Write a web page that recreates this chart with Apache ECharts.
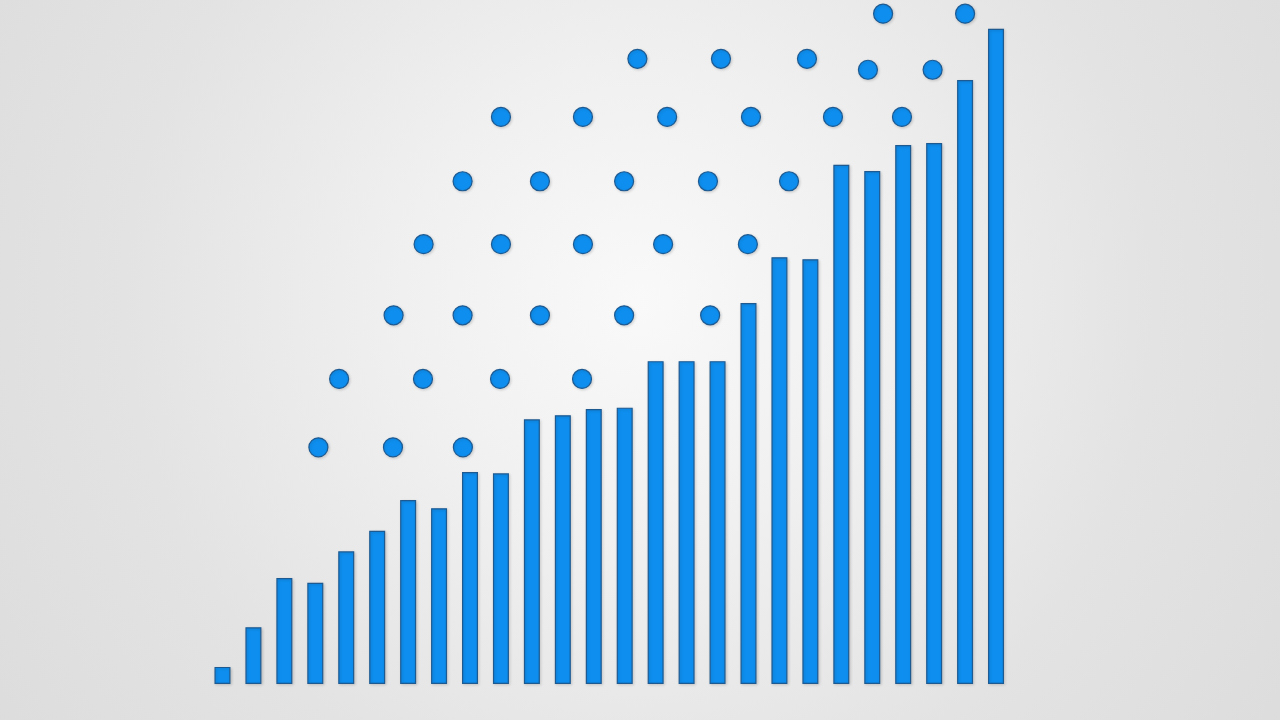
<!DOCTYPE html>
<html>
<head>
<meta charset="utf-8">
<script src="https://cdn.jsdelivr.net/npm/echarts@6/dist/echarts.min.js"></script>
<style>
html,body{margin:0;padding:0;width:1280px;height:720px;overflow:hidden;}
#c{width:1280px;height:720px;}
</style>
</head>
<body>
<div id="c"></div>
<script>
// Bar categories (index) and heights (0-100 scale)
const categories = ['1','2','3','4','5','6','7','8','9','10','11','12','13','14','15','16','17','18','19','20','21','22','23','24','25','26'];
const barValues = [2.5, 8.3, 15.5, 14.8, 19.4, 22.4, 26.9, 25.7, 31.0, 30.8, 38.7, 39.3, 40.2, 40.4, 47.2, 47.2, 47.2, 55.7, 62.4, 62.1, 75.9, 75.0, 78.8, 79.1, 88.3, 95.8];

// Scatter dots: x in bar-index units, y on same 0-100 scale
const dotX = [21.35, 24.0,
  13.41, 16.11, 18.89,
  20.86, 22.95,
  9.0, 11.65, 14.37, 17.08, 19.73, 21.96,
  7.76, 10.26, 12.98, 15.69, 18.31,
  6.5, 9.0, 11.65, 14.24, 16.98,
  5.53, 7.76, 10.26, 12.98, 15.76,
  3.77, 6.48, 8.97, 11.62,
  3.10, 5.51, 7.77];
const dotY = [98.0, 98.0,
  91.4, 91.4, 91.4,
  89.8, 89.8,
  82.9, 82.9, 82.9, 82.9, 82.9, 82.9,
  73.5, 73.5, 73.5, 73.5, 73.5,
  64.3, 64.3, 64.3, 64.3, 64.3,
  53.9, 53.9, 53.9, 53.9, 53.9,
  44.6, 44.6, 44.6, 44.6,
  34.6, 34.6, 34.6];

const dots = dotX.map((x, i) => [x, dotY[i]]);

const chart = echarts.init(document.getElementById('c'), null, {renderer: 'canvas'});
chart.setOption({
  animation: false,
  backgroundColor: {
    type: 'radial', x: 0.5, y: 0.42, r: 1.1,
    colorStops: [
      {offset: 0, color: '#f9f9f9'},
      {offset: 0.3, color: '#f0f0f0'},
      {offset: 0.65, color: '#e3e3e3'},
      {offset: 1, color: '#dcdcdc'}
    ]
  },
  grid: {left: 207, right: 268.5, top: 0, bottom: 36},
  xAxis: [
    {type: 'category', data: categories, show: false, boundaryGap: true},
    {type: 'value', min: -0.5, max: 25.5, show: false}
  ],
  yAxis: [{type: 'value', min: 0, max: 100, show: false}],
  series: [
    {
      type: 'bar',
      data: barValues,
      xAxisIndex: 0,
      barWidth: 16,
      itemStyle: {
        color: '#0e8ff0',
        borderColor: '#1d5a92',
        borderWidth: 1.2,
        shadowColor: 'rgba(0,0,0,0.18)',
        shadowBlur: 3,
        shadowOffsetX: 1,
        shadowOffsetY: 1
      }
    },
    {
      type: 'scatter',
      data: dots,
      xAxisIndex: 1,
      symbol: 'circle',
      symbolSize: 19,
      itemStyle: {
        color: '#0e8ff0',
        borderColor: '#1d5a92',
        borderWidth: 1.2,
        opacity: 1,
        shadowColor: 'rgba(0,0,0,0.15)',
        shadowBlur: 3,
        shadowOffsetX: 1,
        shadowOffsetY: 1
      }
    }
  ]
});
</script>
</body>
</html>
